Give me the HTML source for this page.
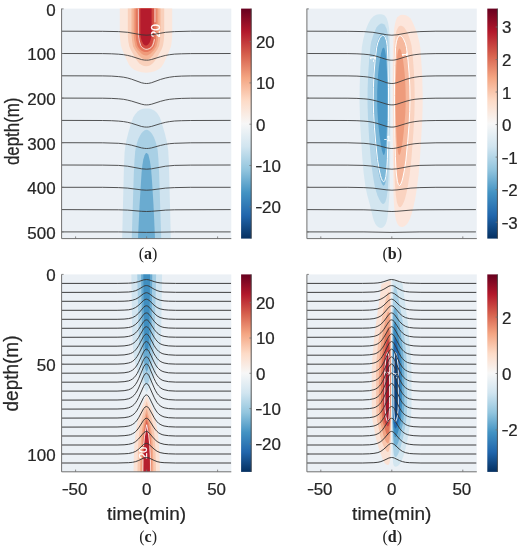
<!DOCTYPE html>
<html><head><meta charset="utf-8"><title>figure</title><style>html,body{margin:0;padding:0;background:#fff}svg{display:block}</style></head><body>
<svg width="519" height="550" viewBox="0 0 519 550" font-family="'Liberation Sans', sans-serif">
<rect width="519" height="550" fill="#fff"/>
<defs>
<linearGradient id="cb" x1="0" y1="0" x2="0" y2="1"><stop offset="0%" stop-color="#67001f"/><stop offset="10%" stop-color="#b2182b"/><stop offset="20%" stop-color="#d6604d"/><stop offset="30%" stop-color="#f4a582"/><stop offset="40%" stop-color="#fddbc7"/><stop offset="50%" stop-color="#f7f7f7"/><stop offset="60%" stop-color="#d1e5f0"/><stop offset="70%" stop-color="#92c5de"/><stop offset="80%" stop-color="#4393c3"/><stop offset="90%" stop-color="#2166ac"/><stop offset="100%" stop-color="#053061"/></linearGradient>
<clipPath id="cla"><rect x="61.6" y="8.6" width="169.7" height="230"/></clipPath>
<clipPath id="clb"><rect x="306.9" y="8.6" width="169.9" height="230"/></clipPath>
<clipPath id="clc"><rect x="61.6" y="274.4" width="169.7" height="197.4"/></clipPath>
<clipPath id="cld"><rect x="306.9" y="274.4" width="169.9" height="197.4"/></clipPath>
</defs>
<rect x="61.6" y="8.6" width="169.7" height="230" fill="#ebf0f5"/>
<g clip-path="url(#cla)">
<path d="M119.8,8 172.2,8 172.2,35.2 171.8,40.6 171.1,45.9 169.8,49.5 165.8,58.9 163.5,63.8 161.4,66.9 160,68.2 158.2,69.6 154.6,71.3 150.6,72.3 146.1,72.7 141.6,72.3 137.6,71.3 133.8,69.6 131,67.3 129,64.7 126.4,59.3 122.2,49.5 120.9,45.5 120.2,40.1 119.8,35.2 119.8,8Z" fill="#fbe7dc"/>
<path d="M127.8,8 164.2,8 164.2,35.2 163.8,40.6 162.9,45.9 161.5,49.5 157.6,56.6 155.6,59.8 154,62 152.3,63.8 150.6,65 149.1,65.7 146.6,66.2 144,66 141.6,65.1 139.2,63.3 137.3,61.1 135.1,57.8 130.6,49.5 129.4,46.8 128.4,41.9 127.8,35.7 127.8,8Z" fill="#f9d0bb"/>
<path d="M131.5,8 160.5,8 160.5,35.2 160,40.6 159,45.9 157.3,49.5 153.1,55.3 150.6,57.8 148.1,59.2 146.6,59.6 144.6,59.4 142.6,58.6 141.1,57.6 138.6,54.9 135.3,50.4 133.1,46.4 132.1,41 131.5,35.2 131.5,8Z" fill="#f5b698"/>
<path d="M133.7,8 158.3,8 158.3,34.8 157.9,39.7 157,44.6 156.3,46.8 154.1,50.1 150.6,53.5 149.1,54.5 147.6,55.2 146.1,55.4 144.6,55.2 143.1,54.7 141.6,53.7 137.6,49.7 136.1,47.5 135.4,45.9 134.3,40.6 133.7,35.2 133.7,8Z" fill="#ef9a7a"/>
<path d="M135.6,8 156.4,8 156.4,34.3 156.1,37.9 155.6,41.5 154.5,45.9 153.4,47.7 152.1,49.2 150.7,50.4 149.1,51.3 147.6,51.9 146.1,52.1 144.6,52 143.1,51.4 141.3,50.4 139.7,49 138.3,47.3 137.5,45.9 137.1,44.6 136.1,39.7 135.6,34.8 135.6,8Z" fill="#e4765c"/>
<path d="M138.1,8 153.9,8 153.9,33.9 153.4,38.8 152.6,42.4 151.3,45.9 150.6,46.8 149.6,47.6 148.6,48.2 147.1,48.7 145.6,48.8 144.1,48.5 142.6,47.7 141.4,46.8 140.7,45.9 140.1,44.6 138.9,40.6 138.4,37.4 138.1,34.3 138.1,8Z" fill="#d24a41"/>
<path d="M140.4,8 151.6,8 151.6,33.4 151.4,36.6 150.6,40 149.6,42.5 148.1,44.6 146.6,45.5 145.6,45.6 144.6,45.2 143.1,43.7 141.6,40.6 140.7,37 140.4,33.4 140.4,8Z" fill="#b51c2d"/>
<path d="M142.8,108.8 145.1,108.4 147.1,108.4 149.1,108.6 151.1,109.1 153.1,109.9 154.6,110.8 156.1,112.1 157.6,113.8 159.7,117.3 161.4,121.7 164.8,133.3 166.8,141.4 168.2,150.3 168.9,162.8 170.9,240.4 122.1,240.4 123.9,168.1 124.6,152.5 125.4,145.8 126.5,140 128.4,132.4 131.3,122.6 133.3,117.3 135.2,114.2 137.6,111.5 140.1,109.8 142.8,108.8Z" fill="#cfe3ef"/>
<path d="M144.7,130.2 145.6,129.9 146.6,129.8 147.6,129.9 148.6,130.4 150.5,132 152.1,134.1 153.9,137.3 155.5,141.4 156.7,145.4 157.6,149.8 158.4,158.8 159.1,172.6 161.3,240.4 131.7,240.4 133.8,173.9 134.4,161.4 135.2,151.6 135.7,148.1 136.6,144.5 137.6,141.1 138.7,138.2 140.1,135.5 141.6,133.1 143.1,131.4 144.7,130.2Z" fill="#a9d0e5"/>
<path d="M145.6,153.4 146.1,153.1 146.6,153 147.1,153.2 148,154.3 148.6,155.6 150,161.4 151.1,169 152,181.1 153.5,205.1 155.1,240.4 137.9,240.4 139.5,206.5 141.6,172.5 142.4,165 143.3,159.6 144.6,155.2 145.6,153.4Z" fill="#6aabd0"/>
<path d="M155,8 155,22.3" fill="none" stroke="#fff" stroke-width="0.7"/>
<path d="M154.5,39.2 153.7,42.8 152.5,45.9 151.3,47.4 149.3,48.7 147.3,49.3 145.8,49.3 144.8,49 142.3,47.6 140.9,45.9 139.3,41 138.5,35.7 138.4,8" fill="none" stroke="#fff" stroke-width="0.7"/>
<text transform="translate(159.6,30.8) scale(1.12,1) rotate(-90)" font-size="12" text-anchor="middle" fill="#fff" stroke="#fff" stroke-width="0.25">20</text>
<path d="M61.6,31.2 102.6,31.3 118.6,31.6 127.6,32.3 141.6,34.8 146.6,35.2 151.6,34.8 165.6,32.3 174.6,31.6 190.6,31.2 230.6,31.2" fill="none" stroke="#363636" stroke-width="0.85"/>
<path d="M61.6,53.5 102.6,53.6 111.6,53.8 118.6,54.2 123.6,54.7 127.6,55.4 131.6,56.4 141.6,59.6 144.6,60.1 146.6,60.2 148.6,60.1 151.6,59.5 160.6,56.7 165.6,55.4 169.6,54.7 174.6,54.1 181.6,53.8 190.6,53.6 230.6,53.5" fill="none" stroke="#363636" stroke-width="0.85"/>
<path d="M61.6,75.8 102.6,75.9 111.6,76.1 118.6,76.6 123.6,77.2 127.6,78 131.6,79.2 141.6,82.8 144.6,83.4 146.6,83.5 148.6,83.4 151.6,82.7 160.6,79.4 165.6,78 169.6,77.2 174.6,76.5 181.6,76.1 190.6,75.9 230.6,75.8" fill="none" stroke="#363636" stroke-width="0.85"/>
<path d="M61.6,98.1 102.6,98.2 111.6,98.4 118.6,98.8 123.6,99.3 127.6,100.1 131.6,101.1 141.6,104.2 144.6,104.8 146.6,104.9 148.6,104.8 151.6,104.2 160.6,101.3 165.6,100 169.6,99.3 174.6,98.8 181.6,98.4 190.6,98.2 230.6,98.1" fill="none" stroke="#363636" stroke-width="0.85"/>
<path d="M61.6,120.4 102.6,120.5 111.6,120.7 118.6,121.1 123.6,121.6 127.6,122.3 131.6,123.3 141.6,126.5 144.6,127 146.6,127.1 148.6,127 151.6,126.4 160.6,123.6 165.6,122.3 169.6,121.6 174.6,121 181.6,120.7 190.6,120.5 230.6,120.4" fill="none" stroke="#363636" stroke-width="0.85"/>
<path d="M61.6,142.7 102.6,142.8 118.6,143.3 123.6,143.8 127.6,144.4 131.6,145.2 141.6,147.9 144.6,148.4 146.6,148.5 148.6,148.4 151.6,147.9 160.6,145.4 165.6,144.3 169.6,143.7 174.6,143.3 190.6,142.8 230.6,142.7" fill="none" stroke="#363636" stroke-width="0.85"/>
<path d="M61.6,165 102.6,165.1 118.6,165.4 127.6,166.2 141.6,168.8 146.6,169.2 151.6,168.8 165.6,166.2 174.6,165.4 190.6,165.1 230.6,165" fill="none" stroke="#363636" stroke-width="0.85"/>
<path d="M61.6,187.3 102.6,187.3 118.6,187.6 127.6,188.1 141.6,189.9 146.6,190.2 151.6,189.9 165.6,188.1 174.6,187.6 190.6,187.3 230.6,187.3" fill="none" stroke="#363636" stroke-width="0.85"/>
<path d="M61.6,209.6 118.6,209.8 127.6,210.1 141.6,211.3 146.6,211.5 151.6,211.3 165.6,210.1 174.6,209.8 230.6,209.6" fill="none" stroke="#363636" stroke-width="0.85"/>
<path d="M61.6,231.9 118.6,231.9 146.6,232.4 174.6,231.9 230.6,231.9" fill="none" stroke="#363636" stroke-width="0.85"/>
</g>
<rect x="306.9" y="8.6" width="169.9" height="230" fill="#ebf0f5"/>
<g clip-path="url(#clb)">
<path d="M379.1,14.3 380.9,14.2 382.4,14.5 383.9,15.1 384.9,15.8 385.9,16.9 386.9,18.7 388.1,22.7 389.1,28.5 389.8,37 390.1,45.9 390.3,62.4 390.4,105.2 390.2,155.6 389.9,181.1 389.3,197.1 388,213.2 387.4,217.8 386.7,221.2 385.7,223.9 384.4,226.1 382.9,227.4 381.9,227.8 380.9,227.9 378.9,227.4 376.9,225.9 375.4,223.9 373.9,220.8 372.7,216.7 370.2,206 367.2,194.9 365.5,186.9 363.6,172.6 362.2,156.5 360.2,124.9 359.5,101.7 359.7,85.2 360.4,67.3 361.9,46.8 363.1,40.1 365,32.5 366.3,28.5 368.1,24.1 370.5,19.6 372.3,17.4 373.9,16 376.4,14.8 379.1,14.3Z" fill="#d3e6f0"/>
<path d="M380.9,23.6 381.9,23.5 382.9,23.7 383.9,24.3 384.9,25.3 386.4,28.3 387.4,32.1 388.3,38.3 388.8,44.6 389.4,66.9 389.6,95.9 389.4,126.6 388.9,161.9 388.4,179.7 387.8,189.1 386.8,196.7 386.2,199.3 385.4,201.7 384.4,203.3 383.4,204 382.4,203.8 380.9,202.3 379.2,199.3 377.4,195.2 376.1,191.3 375,187.3 373.1,177 371.1,161.9 369.3,140.5 368.1,120.8 367.5,103.5 367.6,89.6 368.1,74.9 369.2,59.3 370.6,45 371.3,41.5 372.4,37.9 374,33 375.3,29.9 376.5,27.6 377.9,25.8 379.4,24.4 380.9,23.6Z" fill="#b3d5e8"/>
<path d="M382.5,33.4 383.4,33.5 383.9,33.8 384.9,34.9 385.4,35.9 386.5,39.2 387.4,44.8 387.9,52.8 388.3,63.8 388.7,89.6 388.4,130.5 387.4,165 386.9,172.6 385.9,180.6 384.9,184.2 384.4,185.1 383.9,185.5 383.4,185.5 382.9,185.2 381.9,183.7 380.9,181.3 379.9,178 378.2,170.4 376.8,161 375,143.6 373.6,127.1 372.8,112.8 372.5,99.9 372.7,87 373.3,74 374.4,60.6 375.9,46.8 377,42.3 378.7,37.9 379.9,35.8 380.9,34.5 381.9,33.7 382.5,33.4Z" fill="#7db8d9"/>
<path d="M383.3,47.7 383.9,47.8 384.4,48.5 384.9,50 385.9,55.7 386.3,60.2 387.1,74 387.5,93.2 387.3,116.4 386.4,138.9 385.4,149.8 384.9,152.6 384.4,154.3 383.9,154.9 383.4,154.7 382.9,153.8 381.9,150.4 380.6,143.1 379.4,134.6 378.4,125.3 377.8,116.8 377.3,107.9 377.2,99.4 377.2,91.4 377.6,82.9 378.1,74.5 378.9,66.4 379.9,59.4 381,53.5 382.3,49 382.9,48 383.3,47.7Z" fill="#4a97c6"/>
<path d="M400.4,15.1 402.9,14.8 405.9,15.3 408.3,16.5 410.3,18.3 412,20.9 414.6,26.7 416.2,30.8 417.5,34.8 419.5,42.8 420.4,48.6 422.1,73.1 422.7,95 422.6,107.5 422.2,120.8 420.1,156.1 418.6,174.4 416.2,192.7 415,199.8 413.5,206.5 411.6,214.1 409.9,219.1 408.1,222.5 406.4,224.8 404.4,226.3 402.9,226.9 401.9,227 400.4,226.7 399.4,226.2 398.4,225.3 397.4,223.8 396.5,221.6 395.9,219.7 394.9,214.1 394,204.7 393.5,194 392.9,156.1 392.7,80.3 392.9,51.1 393.3,38.3 394.2,28.5 394.9,24.2 395.7,20.9 396.4,19.1 397.4,17.3 398.9,15.9 400.4,15.1Z" fill="#fce6dc"/>
<path d="M400.1,25.8 401.4,25.8 402.9,26.4 404.4,27.8 406.1,30.3 407.5,33 408.9,36.6 410.5,41.5 411.5,45.5 412.7,55.7 413.9,71.3 414.5,85.2 414.7,98.5 414.4,114.6 413.4,132.4 411.4,158.8 409.7,174.4 407.4,188.6 406.2,194 405.1,198.4 403.8,202 402.4,205.1 400.9,206.9 399.9,207.3 398.9,206.8 398.4,206.1 397.4,203.8 396.9,202 395.9,195.8 394.9,183.7 394.4,170.2 394,148.9 393.6,95.4 393.9,59.3 394.2,47.7 394.6,41.9 395.4,35.6 396.5,30.8 397.9,27.7 398.9,26.5 400.1,25.8Z" fill="#fad3c0"/>
<path d="M399.7,35.7 400.4,35.7 401.4,36.2 402.4,37.3 403.4,38.8 405.4,43.2 406.5,47.7 408,60.2 409.1,73.1 409.8,86.1 410,98.5 409.7,111.5 409,125.8 407.7,141.4 405.9,160.1 404.4,170.2 402.8,177.9 401.9,181.2 400.9,183.8 399.9,185.3 399.4,185.5 398.9,185.3 398.4,184.6 397.4,181.4 396.4,174 395.9,167.5 395.4,156.7 394.9,136.9 394.4,95.4 394.8,65.5 395.6,47.3 396.4,41.8 397.4,38.4 398.4,36.6 398.9,36.1 399.7,35.7Z" fill="#f6b89d"/>
<path d="M398.9,49 399.4,48.6 399.9,48.8 400.9,50.6 402.2,55.3 403.4,62.6 404.4,70.9 405.1,78.9 405.5,87.8 405.7,96.8 405.6,105.2 405.3,113.7 403.8,131.6 402.7,140.9 401.4,148.8 400.4,153 399.9,154.3 399.4,155 398.9,154.8 398.4,153.8 397.9,151.6 396.9,142.6 395.9,122.2 395.6,102.1 395.8,81.2 396.4,64.7 397.4,54.4 397.9,51.7 398.4,50 398.9,49Z" fill="#ee9b7b"/>
<path d="M382.9,35.2 383.9,35.5 384.4,36 385.4,37.6 386.4,40.7 387.2,45.5 388,61.5 388.5,87.8 388.4,121.7 387.4,158.8 386.9,167.7 385.9,176.4 384.9,180.4 384.4,181.3 383.9,181.7 383.4,181.7 382.4,180.6 381.4,178.5 380.5,175.7 378.9,168.6 377.5,159.6 375.7,142.7 374.4,127.1 373.6,113.3 373.2,100.3 373.4,87.4 374,74 375.1,60.6 376.7,47.3 377.8,42.8 379.4,38.8 380.4,37.1 381.4,36 382.4,35.3 382.9,35.2" fill="none" stroke="#fff" stroke-width="1.0"/>
<path d="M399.7,35.7 400.4,35.7 401.4,36.2 402.4,37.3 403.4,38.8 405.4,43.2 406.5,47.7 408,60.2 409.1,73.1 409.8,86.1 410,98.5 409.7,111.5 409,125.8 407.7,141.4 405.9,160.1 404.4,170.2 402.8,177.9 401.9,181.2 400.9,183.8 399.9,185.3 399.4,185.5 398.9,185.3 398.4,184.6 397.4,181.4 396.4,174 395.9,167.5 395.4,156.7 394.9,136.9 394.4,95.4 394.8,65.5 395.6,47.3 396.4,41.8 397.4,38.4 398.4,36.6 398.9,36.1 399.7,35.7" fill="none" stroke="#fff" stroke-width="1.0"/>
<text transform="translate(375.4,62) rotate(-90)" font-size="7" fill="#fff" stroke="#fff" stroke-width="0.3">-1</text>
<text transform="translate(407.2,56.5) rotate(-90)" font-size="7" fill="#fff" stroke="#fff" stroke-width="0.3">1</text>
<text transform="translate(384.3,141)" font-size="7" fill="#fff" stroke="#fff" stroke-width="0.3">-1</text>
<path d="M306.9,31.2 347.9,31.3 363.9,31.6 372.9,32.3 386.9,34.8 391.9,35.2 396.9,34.8 410.9,32.3 419.9,31.6 435.9,31.2 475.9,31.2" fill="none" stroke="#363636" stroke-width="0.85"/>
<path d="M306.9,53.5 347.9,53.6 356.9,53.8 363.9,54.2 368.9,54.7 372.9,55.4 376.9,56.4 386.9,59.6 389.9,60.1 391.9,60.2 393.9,60.1 396.9,59.5 405.9,56.7 410.9,55.4 414.9,54.7 419.9,54.1 426.9,53.8 435.9,53.6 475.9,53.5" fill="none" stroke="#363636" stroke-width="0.85"/>
<path d="M306.9,75.8 347.9,75.9 356.9,76.1 363.9,76.6 368.9,77.2 372.9,78 376.9,79.2 386.9,82.8 389.9,83.4 391.9,83.5 393.9,83.4 396.9,82.7 405.9,79.4 410.9,78 414.9,77.2 419.9,76.5 426.9,76.1 435.9,75.9 475.9,75.8" fill="none" stroke="#363636" stroke-width="0.85"/>
<path d="M306.9,98.1 347.9,98.2 356.9,98.4 363.9,98.8 368.9,99.3 372.9,100.1 376.9,101.1 386.9,104.2 389.9,104.8 391.9,104.9 393.9,104.8 396.9,104.2 405.9,101.3 410.9,100 414.9,99.3 419.9,98.8 426.9,98.4 435.9,98.2 475.9,98.1" fill="none" stroke="#363636" stroke-width="0.85"/>
<path d="M306.9,120.4 347.9,120.5 356.9,120.7 363.9,121.1 368.9,121.6 372.9,122.3 376.9,123.3 386.9,126.5 389.9,127 391.9,127.1 393.9,127 396.9,126.4 405.9,123.6 410.9,122.3 414.9,121.6 419.9,121 426.9,120.7 435.9,120.5 475.9,120.4" fill="none" stroke="#363636" stroke-width="0.85"/>
<path d="M306.9,142.7 347.9,142.8 363.9,143.3 368.9,143.8 372.9,144.4 376.9,145.2 386.9,147.9 389.9,148.4 391.9,148.5 393.9,148.4 396.9,147.9 405.9,145.4 410.9,144.3 414.9,143.7 419.9,143.3 435.9,142.8 475.9,142.7" fill="none" stroke="#363636" stroke-width="0.85"/>
<path d="M306.9,165 347.9,165.1 363.9,165.4 372.9,166.2 386.9,168.8 391.9,169.2 396.9,168.8 410.9,166.2 419.9,165.4 435.9,165.1 475.9,165" fill="none" stroke="#363636" stroke-width="0.85"/>
<path d="M306.9,187.3 347.9,187.3 363.9,187.6 372.9,188.1 386.9,189.9 391.9,190.2 396.9,189.9 410.9,188.1 419.9,187.6 435.9,187.3 475.9,187.3" fill="none" stroke="#363636" stroke-width="0.85"/>
<path d="M306.9,209.6 363.9,209.8 372.9,210.1 386.9,211.3 391.9,211.5 396.9,211.3 410.9,210.1 419.9,209.8 475.9,209.6" fill="none" stroke="#363636" stroke-width="0.85"/>
<path d="M306.9,231.9 363.9,231.9 391.9,232.4 419.9,231.9 475.9,231.9" fill="none" stroke="#363636" stroke-width="0.85"/>
</g>
<rect x="61.6" y="274.4" width="169.7" height="197.4" fill="#ebf0f5"/>
<g clip-path="url(#clc)">
<path d="M131.3,272 132.2,331.5 132.8,344.5 133.8,356 135.2,363 137.6,371.5 142.8,384.5 144.9,389 146.7,392.4 148.5,389 150.6,384.5 155.8,371.5 158.2,363 159.6,356 160.6,344.5 161.2,331.5 162.1,272Z" fill="#d2e5f0"/>
<path d="M137.2,272 138.5,326.5 139,339 139.9,351.5 141,362 143.5,377 144.2,380 144.9,382 145.6,383.5 146.7,385 147.8,383.5 148.5,382 149.2,380 149.9,377 152.4,362 153.5,351.5 154.4,339 154.9,326.5 156.2,272Z" fill="#a6cee4"/>
<path d="M141.1,272 141.8,323 142.5,341.5 143.4,355.5 144.2,362.5 145.4,369 145.9,370.5 146.7,372 147.5,370.5 148,369 149.2,362.5 150,355.5 150.9,341.5 151.6,323 152.3,272Z" fill="#69aad0"/>
<path d="M143.3,272 143.9,320 144.3,338 145,347.5 145.9,350.5 146.7,352 147.5,350.5 148.4,347.5 149.1,338 149.5,320 150.1,272Z" fill="#3f8ec0"/>
<path d="M146.7,395.1 142.6,405.1 140,412.6 137.9,420.1 136.3,428.1 135.2,436.6 134.3,446.6 133.8,458.6 133.5,473.6 159.9,473.6 159.6,458.6 159.1,446.6 158.2,436.6 157.1,428.1 155.5,420.1 153.4,412.6 150.8,405.1 146.7,395.1Z" fill="#fbe2d5"/>
<path d="M146.7,401 143.9,410 142,417 140.5,424 139.4,431 138.6,439 138,448 137.4,473.5 156,473.5 155.4,448 154.8,439 154,431 152.9,424 151.4,417 149.5,410 146.7,401Z" fill="#f8c9b1"/>
<path d="M146.7,408.6 144.7,416.6 143.3,423.1 142.2,429.1 141.4,435.6 140.8,442.6 140.4,451.1 140,473.6 153.4,473.6 153,451.1 152.6,442.6 152,435.6 151.2,429.1 150.1,423.1 148.7,416.6 146.7,408.6Z" fill="#f3aa8a"/>
<path d="M146.7,413.4 144,426.4 142.6,437.9 141.9,451.9 141.6,473.9 151.8,473.9 151.5,451.9 150.8,437.9 149.4,426.4 146.7,413.4Z" fill="#e98768"/>
<path d="M146.7,419.6 144.5,431.1 143.3,441.1 142.7,453.6 142.4,473.6 151,473.6 150.7,453.6 150.1,441.1 148.9,431.1 146.7,419.6Z" fill="#d9594a"/>
<path d="M146.7,425.9 145,436.4 144.2,445.4 143.7,456.4 143.5,473.9 149.9,473.9 149.7,456.4 149.2,445.4 148.4,436.4 146.7,425.9Z" fill="#b51f2e"/>
<path d="M150.7,473.7 150.4,456.2 149.8,444.7 148.7,435.2 146.7,424.7 144.5,436.2 143.5,446.2" fill="none" stroke="#fff" stroke-width="0.8"/>
<path d="M142.9,459.2 142.7,473.7" fill="none" stroke="#fff" stroke-width="0.8"/>
<text transform="translate(147.4,452.7) rotate(-90)" font-size="10.8" text-anchor="middle" fill="#fff" stroke="#fff" stroke-width="0.3">20</text>
<path d="M61.6,283.4 117.1,283.4 128.6,283.2 132.6,282.9 135.6,282.4 138.6,281.6 143.6,279.9 146.6,279.5 149.1,279.9 154.1,281.6 157.1,282.4 160.1,282.9 164.1,283.2 175.6,283.4 231.1,283.4" fill="none" stroke="#363636" stroke-width="0.96"/>
<path d="M61.6,292.4 117.1,292.3 128.6,292 132.6,291.5 135.6,290.7 138.6,289.3 143.6,286.3 145.1,285.7 146.6,285.6 147.6,285.7 149.1,286.2 154.1,289.2 157.1,290.6 160.1,291.5 164.1,292 175.6,292.3 231.1,292.4" fill="none" stroke="#363636" stroke-width="0.96"/>
<path d="M61.6,301.3 117.1,301.3 124.1,301.2 128.6,300.9 132.6,300.2 135.6,299.2 138.6,297.5 143.6,293.7 145.1,293 146.6,292.7 147.6,292.9 149.1,293.6 154.1,297.4 157.1,299.1 160.1,300.2 164.1,300.9 168.6,301.2 175.6,301.3 231.1,301.3" fill="none" stroke="#363636" stroke-width="0.96"/>
<path d="M61.6,310.3 117.1,310.3 124.1,310.1 128.6,309.8 132.6,308.9 135.6,307.5 138.6,305.3 143.6,300.4 145.1,299.5 146.6,299.2 147.6,299.5 149.1,300.3 154.1,305.2 157.1,307.5 160.1,308.9 164.1,309.7 168.6,310.1 175.6,310.3 231.1,310.3" fill="none" stroke="#363636" stroke-width="0.96"/>
<path d="M61.6,319.3 117.1,319.3 124.1,319.1 128.6,318.6 132.6,317.6 135.6,315.9 138.6,313.2 143.6,307.3 145.1,306.1 146.6,305.8 147.6,306.1 149.1,307.2 154.1,313.1 157.1,315.9 160.1,317.5 164.1,318.6 168.6,319.1 175.6,319.3 231.1,319.3" fill="none" stroke="#363636" stroke-width="0.96"/>
<path d="M61.6,328.3 117.1,328.2 124.1,328 128.6,327.5 130.6,327 132.6,326.3 135.6,324.4 138.6,321.3 143.6,314.5 145.1,313.3 146.6,312.9 147.6,313.2 149.1,314.4 154.1,321.2 157.1,324.3 160.1,326.2 162.1,327 164.1,327.5 168.6,328 175.6,328.2 231.1,328.3" fill="none" stroke="#363636" stroke-width="0.96"/>
<path d="M61.6,337.3 117.1,337.2 124.1,337 128.6,336.4 130.6,335.8 132.6,335 134.1,334.1 135.6,332.9 137.1,331.3 138.6,329.4 143.6,321.7 145.1,320.3 146.1,319.9 146.6,319.9 147.6,320.2 149.1,321.6 154.1,329.3 155.6,331.2 157.1,332.8 158.6,334 160.1,335 162.1,335.8 164.1,336.4 168.6,337 175.6,337.2 231.1,337.3" fill="none" stroke="#363636" stroke-width="0.96"/>
<path d="M61.6,346.2 117.1,346.2 124.1,345.9 128.6,345.2 130.6,344.6 132.6,343.7 134.1,342.7 135.6,341.3 137.1,339.6 138.6,337.4 143.6,328.8 145.1,327.1 146.1,326.7 146.6,326.7 147.6,327.1 149.1,328.6 154.1,337.2 155.6,339.4 157.1,341.2 158.6,342.6 160.1,343.7 162.1,344.6 164.1,345.2 168.6,345.9 175.6,346.2 231.1,346.2" fill="none" stroke="#363636" stroke-width="0.96"/>
<path d="M61.6,355.2 117.1,355.2 124.1,354.9 128.6,354.1 130.6,353.5 132.6,352.5 134.1,351.4 135.6,349.9 137.1,348 138.6,345.6 143.6,336.3 145.1,334.5 146.1,334 146.6,334 147.6,334.5 149.1,336.2 154.1,345.5 155.6,347.9 157.1,349.8 158.6,351.3 160.1,352.4 162.1,353.5 164.1,354.1 168.6,354.8 175.6,355.2 231.1,355.2" fill="none" stroke="#363636" stroke-width="0.96"/>
<path d="M61.6,364.2 117.1,364.1 124.1,363.8 128.6,363 130.6,362.4 132.6,361.3 134.1,360.1 135.6,358.5 137.1,356.5 138.6,353.9 143.6,344 145.1,342.1 146.1,341.5 146.6,341.5 147.6,342 149.1,343.8 154.1,353.8 155.6,356.3 157.1,358.4 158.6,360 160.1,361.2 162.1,362.3 164.1,363 168.6,363.8 175.6,364.1 231.1,364.2" fill="none" stroke="#363636" stroke-width="0.96"/>
<path d="M61.6,373.2 117.1,373.1 124.1,372.8 128.6,372 130.6,371.2 132.6,370.1 134.1,368.8 135.6,367.2 137.1,365 138.6,362.3 143.6,351.8 145.1,349.8 146.1,349.2 146.6,349.2 147.6,349.7 149.1,351.6 154.1,362.1 155.6,364.9 157.1,367.1 158.6,368.7 160.1,370 162.1,371.2 164.1,371.9 168.6,372.8 175.6,373.1 231.1,373.2" fill="none" stroke="#363636" stroke-width="0.96"/>
<path d="M61.6,382.2 117.1,382.1 124.1,381.7 128.6,380.9 130.6,380.1 132.6,378.9 134.1,377.6 135.6,375.8 137.1,373.6 138.6,370.7 143.6,359.6 145.1,357.5 146.1,356.9 146.6,356.9 147.6,357.4 149.1,359.4 154.1,370.5 155.6,373.4 157.1,375.7 158.6,377.5 160.1,378.8 162.1,380.1 164.1,380.8 168.6,381.7 175.6,382.1 231.1,382.2" fill="none" stroke="#363636" stroke-width="0.96"/>
<path d="M61.6,391.1 117.1,391.1 124.1,390.7 128.6,389.8 130.6,388.9 132.6,387.6 134.1,386.2 135.6,384.3 137.1,381.9 138.6,378.8 143.6,366.9 145.1,364.6 146.1,364 146.6,364 147.6,364.5 149.1,366.7 154.1,378.6 155.6,381.7 157.1,384.2 158.6,386.1 160.1,387.5 162.1,388.9 164.1,389.7 168.6,390.7 175.6,391.1 231.1,391.1" fill="none" stroke="#363636" stroke-width="0.96"/>
<path d="M61.6,400.1 117.1,400 124.1,399.7 128.6,398.8 130.6,397.9 132.6,396.6 134.1,395.3 135.6,393.4 137.1,391 138.6,388 143.6,376.1 145.1,373.9 146.1,373.3 146.6,373.2 147.6,373.8 149.1,375.9 154.1,387.7 155.6,390.8 157.1,393.3 158.6,395.2 160.1,396.6 162.1,397.9 164.1,398.7 168.6,399.6 175.6,400 231.1,400.1" fill="none" stroke="#363636" stroke-width="0.96"/>
<path d="M61.6,409.1 117.1,409 124.1,408.7 128.6,407.8 130.6,407 132.6,405.8 134.1,404.5 135.6,402.7 137.1,400.4 138.6,397.5 143.6,386.3 145.1,384.1 146.1,383.5 146.6,383.5 147.6,384 149.1,386.1 154.1,397.3 155.6,400.2 157.1,402.6 158.6,404.4 160.1,405.7 162.1,407 164.1,407.8 168.6,408.6 175.6,409 231.1,409.1" fill="none" stroke="#363636" stroke-width="0.96"/>
<path d="M61.6,418.1 117.1,418 124.1,417.7 128.6,416.9 130.6,416.2 132.6,415.1 134.1,413.9 135.6,412.3 137.1,410.2 138.6,407.6 143.6,397.4 145.1,395.5 146.1,394.9 146.6,394.9 147.6,395.4 149.1,397.2 154.1,407.4 155.6,410 157.1,412.2 158.6,413.8 160.1,415 162.1,416.1 164.1,416.9 168.6,417.7 175.6,418 231.1,418.1" fill="none" stroke="#363636" stroke-width="0.96"/>
<path d="M61.6,427.1 117.1,427 124.1,426.7 128.6,426 130.6,425.4 132.6,424.4 134.1,423.3 135.6,421.9 137.1,420.1 138.6,417.8 143.6,408.7 145.1,407 146.1,406.5 146.6,406.5 147.6,406.9 149.1,408.5 154.1,417.6 155.6,419.9 157.1,421.8 158.6,423.3 160.1,424.3 162.1,425.3 164.1,426 168.6,426.7 175.6,427 231.1,427.1" fill="none" stroke="#363636" stroke-width="0.96"/>
<path d="M61.6,436 117.1,436 124.1,435.7 128.6,435.1 130.6,434.6 132.6,433.7 134.1,432.8 135.6,431.6 137.1,430 138.6,428 143.6,420.2 145.1,418.7 146.1,418.3 146.6,418.3 147.6,418.6 149.1,420 154.1,427.9 155.6,429.9 157.1,431.5 158.6,432.8 160.1,433.7 162.1,434.6 164.1,435.1 168.6,435.7 175.6,436 231.1,436" fill="none" stroke="#363636" stroke-width="0.96"/>
<path d="M61.6,445 117.1,445 124.1,444.8 128.6,444.3 132.6,443.3 135.6,441.6 138.6,438.9 143.6,432.9 145.1,431.8 146.6,431.4 147.6,431.7 149.1,432.8 154.1,438.8 157.1,441.5 160.1,443.2 164.1,444.3 168.6,444.8 175.6,445 231.1,445" fill="none" stroke="#363636" stroke-width="0.96"/>
<path d="M61.6,454 117.1,454 124.1,453.8 128.6,453.5 132.6,452.6 135.6,451.4 138.6,449.2 143.6,444.5 145.1,443.7 146.6,443.4 147.6,443.6 149.1,444.5 154.1,449.1 157.1,451.3 160.1,452.6 164.1,453.4 168.6,453.8 175.6,454 231.1,454" fill="none" stroke="#363636" stroke-width="0.96"/>
<path d="M61.6,463 117.1,463 128.6,462.7 132.6,462.3 135.6,461.6 138.6,460.5 143.6,458.1 145.1,457.6 146.6,457.5 149.1,458 154.1,460.4 157.1,461.6 160.1,462.3 164.1,462.7 175.6,463 231.1,463" fill="none" stroke="#363636" stroke-width="0.96"/>
</g>
<rect x="306.9" y="274.4" width="169.9" height="197.4" fill="#ebf0f5"/>
<g clip-path="url(#cld)">
<path d="M392.4,280.1 394.6,280.4 402.5,283.2 407.8,323.6 410.9,357.6 411.5,370.2 411.5,406 411,416.4 410.2,423.9 407.2,441.1 405,450.6 403.5,455.9 401.6,460.8 400,463.7 399.1,464.8 397.9,465.9 396.6,466.5 395.6,466.8 394.6,466.6 394.1,466.1 393.5,464.9 393.1,463 392.5,455.4 392.1,440.4 391.9,408.2 391.9,329.6 392.4,280.1Z" fill="#d3e6f0"/>
<path d="M381.4,283.9 388.4,281.1 390.7,280.7 391.3,332.9 391.3,407.1 391.1,436.3 390.8,448.2 390.1,459.9 389.4,463.6 388.6,464.7 387.9,465 386.7,464.7 385.3,463.7 384.1,462.2 383.1,460.3 378.4,447.2 376.7,441.3 375.3,435.7 373.9,426.6 372.7,421.7 372.2,416.4 371.8,407.8 371.7,371.1 372.3,358 374.2,337.2 377.6,311.5 380,296.5 381.4,283.9Z" fill="#fbe2d5"/>
<path d="M394.8,284.4 395.4,285.1 395.9,286.5 397.6,293.4 402.5,320.3 405.9,351 406.7,361.2 407.1,371.5 407.1,405.5 406.7,414.9 406,422.4 403.1,437.7 400.6,447.2 399.1,451.7 397.9,454.6 396.6,456.5 395.9,457.1 395.4,457.2 394.6,456.6 393.9,454.4 393,447 392.4,431.6 392.1,407.7 392.1,366.8 392.4,317.3 393.4,292.6 394.1,285.9 394.4,285 394.8,284.4Z" fill="#a9d0e5"/>
<path d="M387.8,292.5 388.4,291.8 388.6,291.9 389.1,293.2 389.4,294.6 389.9,299.5 390.4,307.8 390.9,328.2 391.1,371.9 391,417.1 390.6,436.4 390.1,444.2 389.6,448.2 388.9,450.9 388.4,451.7 387.9,452 387.1,451.7 386.1,450.7 383.9,447 381.7,441.4 380.1,436.1 378.5,426.8 377.4,422.8 377,420.7 376.4,413.6 376.1,402.8 376.1,368.4 376.6,359.3 377.8,345.9 379.3,334.6 383,311.2 385.1,302 387.1,294.5 387.8,292.5Z" fill="#f8c6ad"/>
<path d="M394.8,307.3 395.4,307.8 395.9,308.8 397.4,313.3 398.6,318.3 399.6,324 401.7,339.8 403,351 403.9,361 404.3,371.4 404.3,404.9 403.9,413.9 403.4,420 402.7,424.6 400.4,435.1 399.3,439.3 398.3,442.3 397.1,445 396.1,446.4 395.4,446.8 394.6,446 394.1,444.4 393.3,437.9 392.6,423 392.4,406.1 392.4,368.3 392.8,325.3 393.1,317.1 393.6,311.1 394.1,308.4 394.4,307.7 394.8,307.3Z" fill="#72b0d3"/>
<path d="M387.5,312.8 388.1,311.8 388.6,311.7 389.1,312.7 389.4,314 390.1,322.2 390.5,334.4 390.8,369.7 390.8,405.5 390.6,422.4 390,434.3 389.6,438.9 388.9,442.2 388.4,443.1 387.9,443.4 387.1,443.1 386.1,441.9 385.1,440.1 384,437.6 383.1,434.3 381.4,426.5 380.2,422.5 379.4,415.3 378.8,403.1 378.9,370.6 379.6,357.2 380.9,344.6 382.4,335.1 385.4,320 386.5,315.7 387.5,312.8Z" fill="#f0a283"/>
<path d="M394.9,322.1 395.4,322.6 395.9,323.9 396.9,327.9 399.4,342.8 401.5,359.9 402.1,371.9 402,404.6 401.3,416.7 400.4,423.3 398.1,431.9 396.6,436 395.9,437.1 395.4,437.3 394.9,436.8 394.6,436.3 394.2,434.5 393.4,426.9 393,418.7 392.8,405.1 392.8,367.2 393.4,332.8 393.9,324.8 394.4,322.5 394.6,322.1 394.9,322.1Z" fill="#3d8cbf"/>
<path d="M387.4,328.4 388.1,327.2 388.6,327.1 389.1,328.2 389.6,332 389.9,339.8 390.4,370 390.4,405.7 390.2,421.3 389.1,432.2 388.6,434.5 388.4,435.1 387.9,435.5 387.1,435.1 386.3,433.5 384.2,426.4 382.5,421.7 381.7,414.5 381.1,403.2 381.2,371 381.7,359.9 383,348.6 384.3,340.2 385.7,333.6 387.4,328.4Z" fill="#df7459"/>
<path d="M395.3,337.7 396.1,339.6 396.9,342.6 398.4,351.6 399.6,361.1 400.2,372.3 400.2,404 399.6,414.1 398.9,419.5 398.1,423.6 396.6,427.3 395.9,428.4 395.4,428.6 394.9,428.1 394.4,426.8 393.7,422.5 393.3,415.4 393.2,403.2 393.2,370.9 393.4,359.3 394.1,341.6 394.6,338.3 394.9,337.7 395.1,337.6 395.3,337.7Z" fill="#2166ac"/>
<path d="M387.3,340 387.9,339.1 388.1,339 388.4,339.1 388.8,340.8 389.1,343.1 389.9,359.3 390,370.4 390,404.3 389.8,417.3 389.4,423.4 388.6,425.7 387.9,426.5 387.1,426.1 385.9,424.5 385,422.9 384.5,421.2 383.6,414.5 383,403.5 383,371.4 383.4,364.1 383.9,358.3 385.1,349.6 386.2,343.9 387.3,340Z" fill="#c84040"/>
<path d="M395.5,352.6 395.9,353 396.4,354.4 397.3,358.7 398.3,368.2 398.4,403 398.1,409.2 397.4,416.2 396.4,420.4 395.9,421.4 395.4,421.7 394.9,421 394.4,418.5 393.9,410.8 393.7,371.6 394.2,358.4 394.9,353.6 395.1,352.9 395.5,352.6Z" fill="#0b3f7a"/>
<path d="M387.3,353.2 387.6,352.7 387.9,352.6 388.1,352.9 388.9,356.4 389.2,361.6 389.5,370.7 389.5,403.7 389.4,410.8 388.9,418.7 388.4,421 387.9,421.7 387.4,421.4 386.9,420.5 385.9,416.6 385.1,409.2 384.8,403.5 384.9,368.7 385.8,359.4 386.6,355.2 387.3,353.2Z" fill="#a01428"/>
<path d="M395.5,352.6 395.9,353 396.4,354.4 397.3,358.7 398.3,368.2 398.4,403 398.1,409.2 397.4,416.2 396.4,420.4 395.9,421.4 395.4,421.7 394.9,421 394.4,418.5 393.9,410.8 393.7,371.6 394.2,358.4 394.9,353.6 395.1,352.9 395.5,352.6" fill="none" stroke="#fff" stroke-width="0.85"/>
<path d="M387.3,353.2 387.6,352.7 387.9,352.6 388.1,352.9 388.9,356.4 389.2,361.6 389.5,370.7 389.5,403.7 389.4,410.8 388.9,418.7 388.4,421 387.9,421.7 387.4,421.4 386.9,420.5 385.9,416.6 385.1,409.2 384.8,403.5 384.9,368.7 385.8,359.4 386.6,355.2 387.3,353.2" fill="none" stroke="#fff" stroke-width="0.85"/>
<text transform="translate(389.2,373.2) rotate(-90)" font-size="6.5" text-anchor="middle" fill="#fff">3</text>
<text transform="translate(397.8,375.6) rotate(-90)" font-size="6.5" text-anchor="middle" fill="#fff">-3</text>
<path d="M306.9,283.4 362.4,283.4 373.9,283.2 377.9,282.9 380.9,282.4 383.9,281.6 388.9,279.9 391.4,279.5 394.4,279.9 399.4,281.6 402.4,282.4 405.4,282.9 409.4,283.2 420.9,283.4 476.4,283.4" fill="none" stroke="#363636" stroke-width="0.96"/>
<path d="M306.9,292.4 362.4,292.3 373.9,292 377.9,291.5 380.9,290.6 383.9,289.2 388.9,286.2 390.4,285.7 391.4,285.6 392.9,285.7 394.4,286.3 399.4,289.3 402.4,290.7 405.4,291.5 409.4,292 420.9,292.3 476.4,292.4" fill="none" stroke="#363636" stroke-width="0.96"/>
<path d="M306.9,301.3 362.4,301.3 369.4,301.2 373.9,300.9 377.9,300.2 380.9,299.1 383.9,297.4 388.9,293.6 390.4,292.9 391.4,292.7 392.9,293 394.4,293.7 399.4,297.5 402.4,299.2 405.4,300.2 409.4,300.9 413.9,301.2 420.9,301.3 476.4,301.3" fill="none" stroke="#363636" stroke-width="0.96"/>
<path d="M306.9,310.3 362.4,310.3 369.4,310.1 373.9,309.7 377.9,308.9 380.9,307.5 383.9,305.2 388.9,300.3 390.4,299.5 391.4,299.2 392.9,299.5 394.4,300.4 399.4,305.3 402.4,307.5 405.4,308.9 409.4,309.8 413.9,310.1 420.9,310.3 476.4,310.3" fill="none" stroke="#363636" stroke-width="0.96"/>
<path d="M306.9,319.3 362.4,319.3 369.4,319.1 373.9,318.6 377.9,317.5 380.9,315.9 383.9,313.1 388.9,307.2 390.4,306.1 391.4,305.8 392.9,306.1 394.4,307.3 399.4,313.2 402.4,315.9 405.4,317.6 409.4,318.6 413.9,319.1 420.9,319.3 476.4,319.3" fill="none" stroke="#363636" stroke-width="0.96"/>
<path d="M306.9,328.3 362.4,328.2 369.4,328 373.9,327.5 375.9,327 377.9,326.2 380.9,324.3 383.9,321.2 388.9,314.4 390.4,313.2 391.4,312.9 392.9,313.3 394.4,314.5 399.4,321.3 402.4,324.4 405.4,326.3 407.4,327 409.4,327.5 413.9,328 420.9,328.2 476.4,328.3" fill="none" stroke="#363636" stroke-width="0.96"/>
<path d="M306.9,337.3 362.4,337.2 369.4,337 373.9,336.4 375.9,335.8 377.9,335 379.4,334 380.9,332.8 382.4,331.2 383.9,329.3 388.9,321.6 390.4,320.2 391.4,319.9 391.9,319.9 392.9,320.3 394.4,321.7 399.4,329.4 400.9,331.3 402.4,332.9 403.9,334.1 405.4,335 407.4,335.8 409.4,336.4 413.9,337 420.9,337.2 476.4,337.3" fill="none" stroke="#363636" stroke-width="0.96"/>
<path d="M306.9,346.2 362.4,346.2 369.4,345.9 373.9,345.2 375.9,344.6 377.9,343.7 379.4,342.6 380.9,341.2 382.4,339.4 383.9,337.2 388.9,328.6 390.4,327.1 391.4,326.7 391.9,326.7 392.9,327.1 394.4,328.8 399.4,337.4 400.9,339.6 402.4,341.3 403.9,342.7 405.4,343.7 407.4,344.6 409.4,345.2 413.9,345.9 420.9,346.2 476.4,346.2" fill="none" stroke="#363636" stroke-width="0.96"/>
<path d="M306.9,355.2 362.4,355.2 369.4,354.8 373.9,354.1 375.9,353.5 377.9,352.4 379.4,351.3 380.9,349.8 382.4,347.9 383.9,345.5 388.9,336.2 390.4,334.5 391.4,334 391.9,334 392.9,334.5 394.4,336.3 399.4,345.6 400.9,348 402.4,349.9 403.9,351.4 405.4,352.5 407.4,353.5 409.4,354.1 413.9,354.9 420.9,355.2 476.4,355.2" fill="none" stroke="#363636" stroke-width="0.96"/>
<path d="M306.9,364.2 362.4,364.1 369.4,363.8 373.9,363 375.9,362.3 377.9,361.2 379.4,360 380.9,358.4 382.4,356.3 383.9,353.8 388.9,343.8 390.4,342 391.4,341.5 391.9,341.5 392.9,342.1 394.4,344 399.4,353.9 400.9,356.5 402.4,358.5 403.9,360.1 405.4,361.3 407.4,362.4 409.4,363 413.9,363.8 420.9,364.1 476.4,364.2" fill="none" stroke="#363636" stroke-width="0.96"/>
<path d="M306.9,373.2 362.4,373.1 369.4,372.8 373.9,371.9 375.9,371.2 377.9,370 379.4,368.7 380.9,367.1 382.4,364.9 383.9,362.1 388.9,351.6 390.4,349.7 391.4,349.2 391.9,349.2 392.9,349.8 394.4,351.8 399.4,362.3 400.9,365 402.4,367.2 403.9,368.8 405.4,370.1 407.4,371.2 409.4,372 413.9,372.8 420.9,373.1 476.4,373.2" fill="none" stroke="#363636" stroke-width="0.96"/>
<path d="M306.9,382.2 362.4,382.1 369.4,381.7 373.9,380.8 375.9,380.1 377.9,378.8 379.4,377.5 380.9,375.7 382.4,373.4 383.9,370.5 388.9,359.4 390.4,357.4 391.4,356.9 391.9,356.9 392.9,357.5 394.4,359.6 399.4,370.7 400.9,373.6 402.4,375.8 403.9,377.6 405.4,378.9 407.4,380.1 409.4,380.9 413.9,381.7 420.9,382.1 476.4,382.2" fill="none" stroke="#363636" stroke-width="0.96"/>
<path d="M306.9,391.1 362.4,391.1 369.4,390.7 373.9,389.7 375.9,388.9 377.9,387.5 379.4,386.1 380.9,384.2 382.4,381.7 383.9,378.6 388.9,366.7 390.4,364.5 391.4,364 391.9,364 392.9,364.6 394.4,366.9 399.4,378.8 400.9,381.9 402.4,384.3 403.9,386.2 405.4,387.6 407.4,388.9 409.4,389.8 413.9,390.7 420.9,391.1 476.4,391.1" fill="none" stroke="#363636" stroke-width="0.96"/>
<path d="M306.9,400.1 362.4,400 369.4,399.6 373.9,398.7 375.9,397.9 377.9,396.6 379.4,395.2 380.9,393.3 382.4,390.8 383.9,387.7 388.9,375.9 390.4,373.8 391.4,373.2 391.9,373.3 392.9,373.9 394.4,376.1 399.4,388 400.9,391 402.4,393.4 403.9,395.3 405.4,396.6 407.4,397.9 409.4,398.8 413.9,399.7 420.9,400 476.4,400.1" fill="none" stroke="#363636" stroke-width="0.96"/>
<path d="M306.9,409.1 362.4,409 369.4,408.6 373.9,407.8 375.9,407 377.9,405.7 379.4,404.4 380.9,402.6 382.4,400.2 383.9,397.3 388.9,386.1 390.4,384 391.4,383.5 391.9,383.5 392.9,384.1 394.4,386.3 399.4,397.5 400.9,400.4 402.4,402.7 403.9,404.5 405.4,405.8 407.4,407 409.4,407.8 413.9,408.7 420.9,409 476.4,409.1" fill="none" stroke="#363636" stroke-width="0.96"/>
<path d="M306.9,418.1 362.4,418 369.4,417.7 373.9,416.9 375.9,416.1 377.9,415 379.4,413.8 380.9,412.2 382.4,410 383.9,407.4 388.9,397.2 390.4,395.4 391.4,394.9 391.9,394.9 392.9,395.5 394.4,397.4 399.4,407.6 400.9,410.2 402.4,412.3 403.9,413.9 405.4,415.1 407.4,416.2 409.4,416.9 413.9,417.7 420.9,418 476.4,418.1" fill="none" stroke="#363636" stroke-width="0.96"/>
<path d="M306.9,427.1 362.4,427 369.4,426.7 373.9,426 375.9,425.3 377.9,424.3 379.4,423.3 380.9,421.8 382.4,419.9 383.9,417.6 388.9,408.5 390.4,406.9 391.4,406.5 391.9,406.5 392.9,407 394.4,408.7 399.4,417.8 400.9,420.1 402.4,421.9 403.9,423.3 405.4,424.4 407.4,425.4 409.4,426 413.9,426.7 420.9,427 476.4,427.1" fill="none" stroke="#363636" stroke-width="0.96"/>
<path d="M306.9,436 362.4,436 369.4,435.7 373.9,435.1 375.9,434.6 377.9,433.7 379.4,432.8 380.9,431.5 382.4,429.9 383.9,427.9 388.9,420 390.4,418.6 391.4,418.3 391.9,418.3 392.9,418.7 394.4,420.2 399.4,428 400.9,430 402.4,431.6 403.9,432.8 405.4,433.7 407.4,434.6 409.4,435.1 413.9,435.7 420.9,436 476.4,436" fill="none" stroke="#363636" stroke-width="0.96"/>
<path d="M306.9,445 362.4,445 369.4,444.8 373.9,444.3 377.9,443.2 380.9,441.5 383.9,438.8 388.9,432.8 390.4,431.7 391.4,431.4 392.9,431.8 394.4,432.9 399.4,438.9 402.4,441.6 405.4,443.3 409.4,444.3 413.9,444.8 420.9,445 476.4,445" fill="none" stroke="#363636" stroke-width="0.96"/>
<path d="M306.9,454 362.4,454 369.4,453.8 373.9,453.4 377.9,452.6 380.9,451.3 383.9,449.1 388.9,444.5 390.4,443.6 391.4,443.4 392.9,443.7 394.4,444.5 399.4,449.2 402.4,451.4 405.4,452.6 409.4,453.5 413.9,453.8 420.9,454 476.4,454" fill="none" stroke="#363636" stroke-width="0.96"/>
<path d="M306.9,463 362.4,463 373.9,462.7 377.9,462.3 380.9,461.6 383.9,460.4 388.9,458 391.4,457.5 392.9,457.6 394.4,458.1 399.4,460.5 402.4,461.6 405.4,462.3 409.4,462.7 420.9,463 476.4,463" fill="none" stroke="#363636" stroke-width="0.96"/>
</g>
<path d="M61.6,8.6 V238.6 H231.3" fill="none" stroke="#707070" stroke-width="1"/>
<path d="M75.6,238.6 v-2.2" stroke="#707070" stroke-width="0.8"/>
<path d="M146.6,238.6 v-2.2" stroke="#707070" stroke-width="0.8"/>
<path d="M217.6,238.6 v-2.2" stroke="#707070" stroke-width="0.8"/>
<path d="M61.6,8.9 h2" stroke="#707070" stroke-width="0.8"/>
<text transform="translate(55.6,15.8) scale(1.06,1)" font-size="16" text-anchor="end" fill="#262626" stroke="#262626" stroke-width="0.22">0</text>
<path d="M61.6,53.5 h2" stroke="#707070" stroke-width="0.8"/>
<text transform="translate(55.6,60.4) scale(1.06,1)" font-size="16" text-anchor="end" fill="#262626" stroke="#262626" stroke-width="0.22">100</text>
<path d="M61.6,98.1 h2" stroke="#707070" stroke-width="0.8"/>
<text transform="translate(55.6,105) scale(1.06,1)" font-size="16" text-anchor="end" fill="#262626" stroke="#262626" stroke-width="0.22">200</text>
<path d="M61.6,142.7 h2" stroke="#707070" stroke-width="0.8"/>
<text transform="translate(55.6,149.6) scale(1.06,1)" font-size="16" text-anchor="end" fill="#262626" stroke="#262626" stroke-width="0.22">300</text>
<path d="M61.6,187.3 h2" stroke="#707070" stroke-width="0.8"/>
<text transform="translate(55.6,194.2) scale(1.06,1)" font-size="16" text-anchor="end" fill="#262626" stroke="#262626" stroke-width="0.22">400</text>
<path d="M61.6,231.9 h2" stroke="#707070" stroke-width="0.8"/>
<text transform="translate(55.6,238.8) scale(1.06,1)" font-size="16" text-anchor="end" fill="#262626" stroke="#262626" stroke-width="0.22">500</text>
<path d="M306.9,8.6 V238.6 H476.8" fill="none" stroke="#707070" stroke-width="1"/>
<path d="M320.8,238.6 v-2.2" stroke="#707070" stroke-width="0.8"/>
<path d="M391.8,238.6 v-2.2" stroke="#707070" stroke-width="0.8"/>
<path d="M462.8,238.6 v-2.2" stroke="#707070" stroke-width="0.8"/>
<path d="M306.9,8.9 h2" stroke="#707070" stroke-width="0.8"/>
<path d="M306.9,53.5 h2" stroke="#707070" stroke-width="0.8"/>
<path d="M306.9,98.1 h2" stroke="#707070" stroke-width="0.8"/>
<path d="M306.9,142.7 h2" stroke="#707070" stroke-width="0.8"/>
<path d="M306.9,187.3 h2" stroke="#707070" stroke-width="0.8"/>
<path d="M306.9,231.9 h2" stroke="#707070" stroke-width="0.8"/>
<path d="M61.6,274.4 V471.8 H231.3" fill="none" stroke="#707070" stroke-width="1"/>
<path d="M75.6,471.8 v-2.2" stroke="#707070" stroke-width="0.8"/>
<text transform="translate(62,495.4) scale(0.694,1)" font-size="16" text-anchor="start" fill="#262626" stroke="#262626" stroke-width="0.22">−</text>
<text transform="translate(68.5,495.4) scale(1.06,1)" font-size="16" text-anchor="start" fill="#262626" stroke="#262626" stroke-width="0.22">50</text>
<path d="M146.6,471.8 v-2.2" stroke="#707070" stroke-width="0.8"/>
<text transform="translate(146.6,495.4) scale(1.06,1)" font-size="16" text-anchor="middle" fill="#262626" stroke="#262626" stroke-width="0.22">0</text>
<path d="M217.6,471.8 v-2.2" stroke="#707070" stroke-width="0.8"/>
<text transform="translate(216.6,495.4) scale(1.06,1)" font-size="16" text-anchor="middle" fill="#262626" stroke="#262626" stroke-width="0.22">50</text>
<path d="M61.6,274.4 h2" stroke="#707070" stroke-width="0.8"/>
<text transform="translate(55.6,281.3) scale(1.06,1)" font-size="16" text-anchor="end" fill="#262626" stroke="#262626" stroke-width="0.22">0</text>
<path d="M61.6,364.2 h2" stroke="#707070" stroke-width="0.8"/>
<text transform="translate(55.6,371.1) scale(1.06,1)" font-size="16" text-anchor="end" fill="#262626" stroke="#262626" stroke-width="0.22">50</text>
<path d="M61.6,454 h2" stroke="#707070" stroke-width="0.8"/>
<text transform="translate(55.6,460.9) scale(1.06,1)" font-size="16" text-anchor="end" fill="#262626" stroke="#262626" stroke-width="0.22">100</text>
<path d="M306.9,274.4 V471.8 H476.8" fill="none" stroke="#707070" stroke-width="1"/>
<path d="M320.8,471.8 v-2.2" stroke="#707070" stroke-width="0.8"/>
<text transform="translate(307.2,495.4) scale(0.694,1)" font-size="16" text-anchor="start" fill="#262626" stroke="#262626" stroke-width="0.22">−</text>
<text transform="translate(313.7,495.4) scale(1.06,1)" font-size="16" text-anchor="start" fill="#262626" stroke="#262626" stroke-width="0.22">50</text>
<path d="M391.8,471.8 v-2.2" stroke="#707070" stroke-width="0.8"/>
<text transform="translate(391.8,495.4) scale(1.06,1)" font-size="16" text-anchor="middle" fill="#262626" stroke="#262626" stroke-width="0.22">0</text>
<path d="M462.8,471.8 v-2.2" stroke="#707070" stroke-width="0.8"/>
<text transform="translate(461.8,495.4) scale(1.06,1)" font-size="16" text-anchor="middle" fill="#262626" stroke="#262626" stroke-width="0.22">50</text>
<path d="M306.9,274.4 h2" stroke="#707070" stroke-width="0.8"/>
<path d="M306.9,364.2 h2" stroke="#707070" stroke-width="0.8"/>
<path d="M306.9,454 h2" stroke="#707070" stroke-width="0.8"/>
<text transform="translate(19,131.3) scale(1.185,1) rotate(-90)" font-size="16.85" text-anchor="middle" fill="#262626" stroke="#262626" stroke-width="0.22">depth(m)</text>
<text transform="translate(18.3,373.5) scale(1.077,1) rotate(-90)" font-size="19.0" text-anchor="middle" fill="#262626" stroke="#262626" stroke-width="0.22">depth(m)</text>
<text transform="translate(146.5,520.3) scale(1.068,1)" font-size="17.8" text-anchor="middle" fill="#262626" stroke="#262626" stroke-width="0.22">time(min)</text>
<text transform="translate(391.7,520.3) scale(1.068,1)" font-size="17.8" text-anchor="middle" fill="#262626" stroke="#262626" stroke-width="0.22">time(min)</text>
<rect x="241.1" y="8.6" width="10.3" height="230" fill="url(#cb)"/>
<path d="M251.2,8.6 V238.6" stroke="#444" stroke-width="0.9" fill="none"/>
<path d="M251.4,41.6 h-2" stroke="#707070" stroke-width="0.8"/>
<text transform="translate(255.9,48) scale(1.06,1)" font-size="16" text-anchor="start" fill="#262626" stroke="#262626" stroke-width="0.22">20</text>
<path d="M251.4,82.9 h-2" stroke="#707070" stroke-width="0.8"/>
<text transform="translate(255.9,89.3) scale(1.06,1)" font-size="16" text-anchor="start" fill="#262626" stroke="#262626" stroke-width="0.22">10</text>
<path d="M251.4,124.2 h-2" stroke="#707070" stroke-width="0.8"/>
<text transform="translate(255.9,130.6) scale(1.06,1)" font-size="16" text-anchor="start" fill="#262626" stroke="#262626" stroke-width="0.22">0</text>
<path d="M251.4,165.5 h-2" stroke="#707070" stroke-width="0.8"/>
<text transform="translate(255.5,171.9) scale(0.694,1)" font-size="16" text-anchor="start" fill="#262626" stroke="#262626" stroke-width="0.22">−</text>
<text transform="translate(262,171.9) scale(1.06,1)" font-size="16" text-anchor="start" fill="#262626" stroke="#262626" stroke-width="0.22">10</text>
<path d="M251.4,206.8 h-2" stroke="#707070" stroke-width="0.8"/>
<text transform="translate(255.5,213.2) scale(0.694,1)" font-size="16" text-anchor="start" fill="#262626" stroke="#262626" stroke-width="0.22">−</text>
<text transform="translate(262,213.2) scale(1.06,1)" font-size="16" text-anchor="start" fill="#262626" stroke="#262626" stroke-width="0.22">20</text>
<rect x="487.3" y="8.6" width="10.3" height="230" fill="url(#cb)"/>
<path d="M497.4,8.6 V238.6" stroke="#444" stroke-width="0.9" fill="none"/>
<path d="M497.6,27 h-2" stroke="#707070" stroke-width="0.8"/>
<text transform="translate(502.1,33.4) scale(1.06,1)" font-size="16" text-anchor="start" fill="#262626" stroke="#262626" stroke-width="0.22">3</text>
<path d="M497.6,59.5 h-2" stroke="#707070" stroke-width="0.8"/>
<text transform="translate(502.1,65.9) scale(1.06,1)" font-size="16" text-anchor="start" fill="#262626" stroke="#262626" stroke-width="0.22">2</text>
<path d="M497.6,92 h-2" stroke="#707070" stroke-width="0.8"/>
<text transform="translate(502.1,98.5) scale(1.06,1)" font-size="16" text-anchor="start" fill="#262626" stroke="#262626" stroke-width="0.22">1</text>
<path d="M497.6,124.6 h-2" stroke="#707070" stroke-width="0.8"/>
<text transform="translate(502.1,131) scale(1.06,1)" font-size="16" text-anchor="start" fill="#262626" stroke="#262626" stroke-width="0.22">0</text>
<path d="M497.6,157.1 h-2" stroke="#707070" stroke-width="0.8"/>
<text transform="translate(501.7,163.5) scale(0.694,1)" font-size="16" text-anchor="start" fill="#262626" stroke="#262626" stroke-width="0.22">−</text>
<text transform="translate(508.2,163.5) scale(1.06,1)" font-size="16" text-anchor="start" fill="#262626" stroke="#262626" stroke-width="0.22">1</text>
<path d="M497.6,189.7 h-2" stroke="#707070" stroke-width="0.8"/>
<text transform="translate(501.7,196.1) scale(0.694,1)" font-size="16" text-anchor="start" fill="#262626" stroke="#262626" stroke-width="0.22">−</text>
<text transform="translate(508.2,196.1) scale(1.06,1)" font-size="16" text-anchor="start" fill="#262626" stroke="#262626" stroke-width="0.22">2</text>
<path d="M497.6,222.2 h-2" stroke="#707070" stroke-width="0.8"/>
<text transform="translate(501.7,228.7) scale(0.694,1)" font-size="16" text-anchor="start" fill="#262626" stroke="#262626" stroke-width="0.22">−</text>
<text transform="translate(508.2,228.7) scale(1.06,1)" font-size="16" text-anchor="start" fill="#262626" stroke="#262626" stroke-width="0.22">3</text>
<rect x="241.1" y="274.4" width="10.3" height="197.5" fill="url(#cb)"/>
<path d="M251.2,274.4 V471.9" stroke="#444" stroke-width="0.9" fill="none"/>
<path d="M251.4,302.7 h-2" stroke="#707070" stroke-width="0.8"/>
<text transform="translate(255.9,309.1) scale(1.06,1)" font-size="16" text-anchor="start" fill="#262626" stroke="#262626" stroke-width="0.22">20</text>
<path d="M251.4,338 h-2" stroke="#707070" stroke-width="0.8"/>
<text transform="translate(255.9,344.4) scale(1.06,1)" font-size="16" text-anchor="start" fill="#262626" stroke="#262626" stroke-width="0.22">10</text>
<path d="M251.4,373.3 h-2" stroke="#707070" stroke-width="0.8"/>
<text transform="translate(255.9,379.7) scale(1.06,1)" font-size="16" text-anchor="start" fill="#262626" stroke="#262626" stroke-width="0.22">0</text>
<path d="M251.4,408.6 h-2" stroke="#707070" stroke-width="0.8"/>
<text transform="translate(255.5,415) scale(0.694,1)" font-size="16" text-anchor="start" fill="#262626" stroke="#262626" stroke-width="0.22">−</text>
<text transform="translate(262,415) scale(1.06,1)" font-size="16" text-anchor="start" fill="#262626" stroke="#262626" stroke-width="0.22">10</text>
<path d="M251.4,443.9 h-2" stroke="#707070" stroke-width="0.8"/>
<text transform="translate(255.5,450.3) scale(0.694,1)" font-size="16" text-anchor="start" fill="#262626" stroke="#262626" stroke-width="0.22">−</text>
<text transform="translate(262,450.3) scale(1.06,1)" font-size="16" text-anchor="start" fill="#262626" stroke="#262626" stroke-width="0.22">20</text>
<rect x="487.3" y="274.4" width="10.3" height="197.5" fill="url(#cb)"/>
<path d="M497.4,274.4 V471.9" stroke="#444" stroke-width="0.9" fill="none"/>
<path d="M497.6,317.1 h-2" stroke="#707070" stroke-width="0.8"/>
<text transform="translate(502.1,323.5) scale(1.06,1)" font-size="16" text-anchor="start" fill="#262626" stroke="#262626" stroke-width="0.22">2</text>
<path d="M497.6,373.5 h-2" stroke="#707070" stroke-width="0.8"/>
<text transform="translate(502.1,379.9) scale(1.06,1)" font-size="16" text-anchor="start" fill="#262626" stroke="#262626" stroke-width="0.22">0</text>
<path d="M497.6,429.9 h-2" stroke="#707070" stroke-width="0.8"/>
<text transform="translate(501.7,436.3) scale(0.694,1)" font-size="16" text-anchor="start" fill="#262626" stroke="#262626" stroke-width="0.22">−</text>
<text transform="translate(508.2,436.3) scale(1.06,1)" font-size="16" text-anchor="start" fill="#262626" stroke="#262626" stroke-width="0.22">2</text>
<text x="148.1" y="259" font-size="16" text-anchor="middle" fill="#222" font-family="'Liberation Serif', 'DejaVu Serif', serif">(<tspan font-weight="bold">a</tspan>)</text>
<text x="392.3" y="259" font-size="16" text-anchor="middle" fill="#222" font-family="'Liberation Serif', 'DejaVu Serif', serif">(<tspan font-weight="bold">b</tspan>)</text>
<text x="148.1" y="542" font-size="16" text-anchor="middle" fill="#222" font-family="'Liberation Serif', 'DejaVu Serif', serif">(<tspan font-weight="bold">c</tspan>)</text>
<text x="392.3" y="542" font-size="16" text-anchor="middle" fill="#222" font-family="'Liberation Serif', 'DejaVu Serif', serif">(<tspan font-weight="bold">d</tspan>)</text>
</svg>
</body></html>
